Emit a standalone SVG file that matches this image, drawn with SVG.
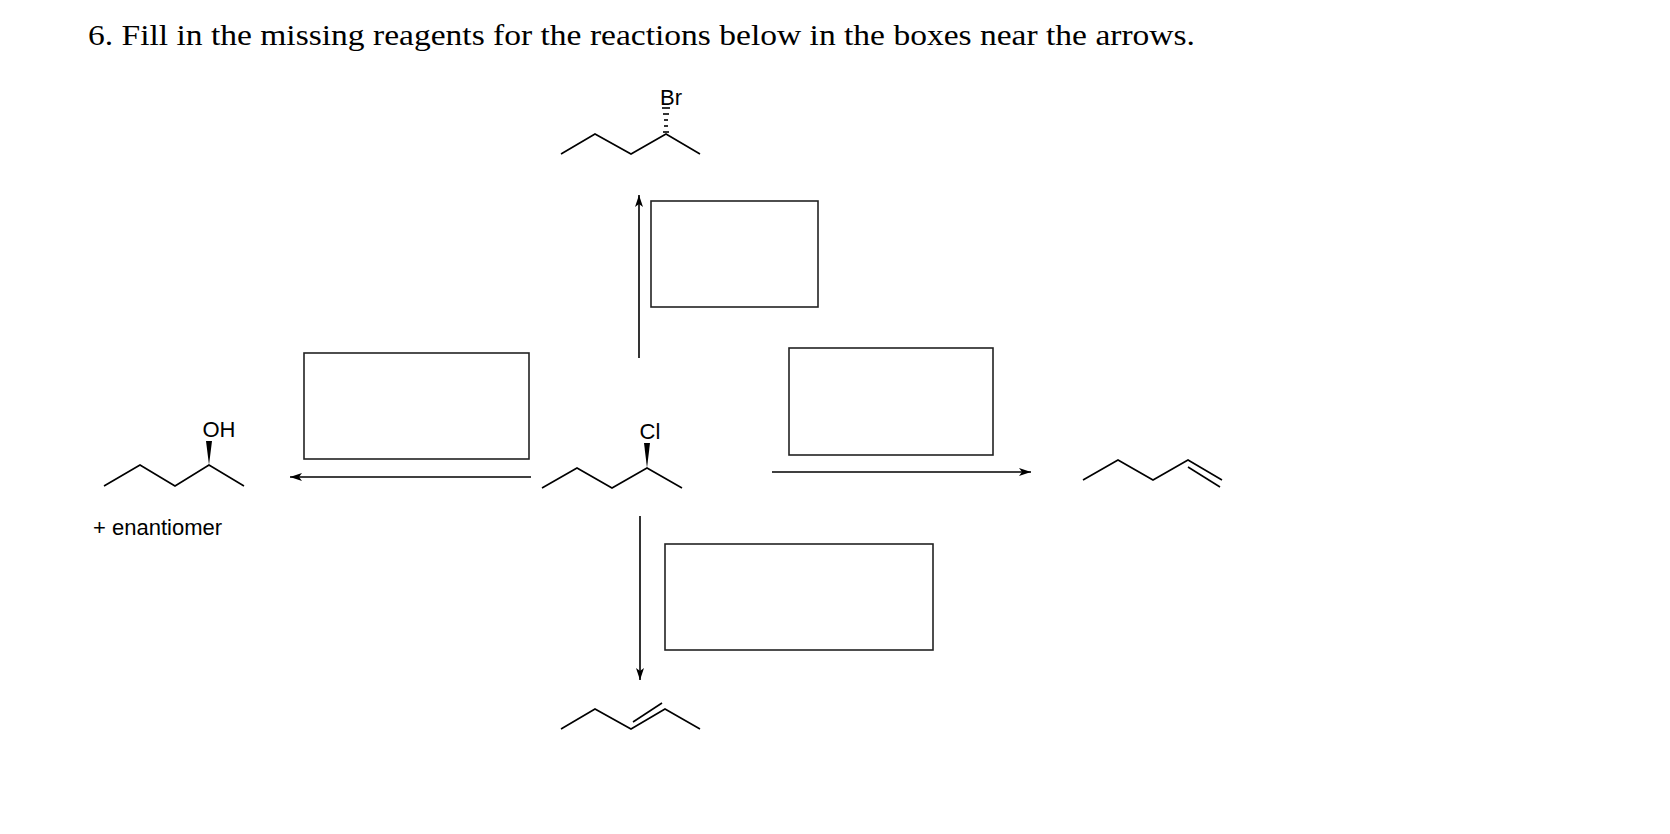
<svg xmlns="http://www.w3.org/2000/svg" width="1670" height="834" viewBox="0 0 1670 834">
<style>
.b{fill:none;stroke:#000;stroke-width:1.6}
.box{fill:none;stroke:#222;stroke-width:1.6}
.l{font-family:"Liberation Sans",Arial,sans-serif;font-size:22px;fill:#000}
.t{font-family:"Liberation Serif","Times New Roman",serif;font-size:30px;fill:#000}
</style>
<defs>
<marker id="ah" viewBox="0 0 12 8" refX="12" refY="4" markerWidth="12" markerHeight="8" markerUnits="userSpaceOnUse" orient="auto"><path d="M0,0L12,4L0,8L3,4Z" fill="#000"/></marker>
</defs>
<rect width="1670" height="834" fill="#fff"/>
<text class="t" x="88" y="45" textLength="1107" lengthAdjust="spacingAndGlyphs">6. Fill in the missing reagents for the reactions below in the boxes near the arrows.</text>
<g id="bromide">
<polyline class="b" points="561,154 595,134 631,154 666,134 700,154"/>
<g stroke="#000" stroke-width="1.6"><line x1="663" y1="132" x2="669" y2="132"/><line x1="664" y1="126" x2="668" y2="126"/><line x1="664" y1="120" x2="668" y2="120"/><line x1="663" y1="114" x2="669" y2="114"/><line x1="662" y1="108" x2="670" y2="108"/></g>
<text class="l" x="671" y="105" text-anchor="middle">Br</text>
</g>
<g id="chloride">
<polyline class="b" points="542,488 577,468 612,488 647,468 682,488"/>
<polygon points="647,468 644,443 650,443" fill="#000"/>
<text class="l" x="650" y="439" text-anchor="middle">Cl</text>
</g>
<g id="alcohol">
<polyline class="b" points="104,486 140,465 175,486 209,465 244,486"/>
<polygon points="209,465 206,441 212,441" fill="#000"/>
<text class="l" x="219" y="437" text-anchor="middle">OH</text>
<text class="l" x="93" y="535">+ enantiomer</text>
</g>
<g id="pentene1">
<polyline class="b" points="1083,480 1118,460 1153,480 1188,460 1222,480"/>
<line class="b" x1="1188" y1="467" x2="1220" y2="487"/>
</g>
<g id="pentene2">
<polyline class="b" points="561,729 595,709 631,729 665,709 700,729"/>
<line class="b" x1="633" y1="722" x2="662" y2="703"/>
</g>
<g id="box-top"><rect class="box" x="651" y="201" width="167" height="106"/></g>
<g id="box-left"><rect class="box" x="304" y="353" width="225" height="106"/></g>
<g id="box-right"><rect class="box" x="789" y="348" width="204" height="107"/></g>
<g id="box-bottom"><rect class="box" x="665" y="544" width="268" height="106"/></g>
<g id="connectors">
<line class="b" x1="639" y1="358" x2="639" y2="195" marker-end="url(#ah)"/>
<line class="b" x1="531" y1="477" x2="290" y2="477" marker-end="url(#ah)"/>
<line class="b" x1="772" y1="472" x2="1031" y2="472" marker-end="url(#ah)"/>
<line class="b" x1="640" y1="516" x2="640" y2="680" marker-end="url(#ah)"/>
</g>
</svg>
